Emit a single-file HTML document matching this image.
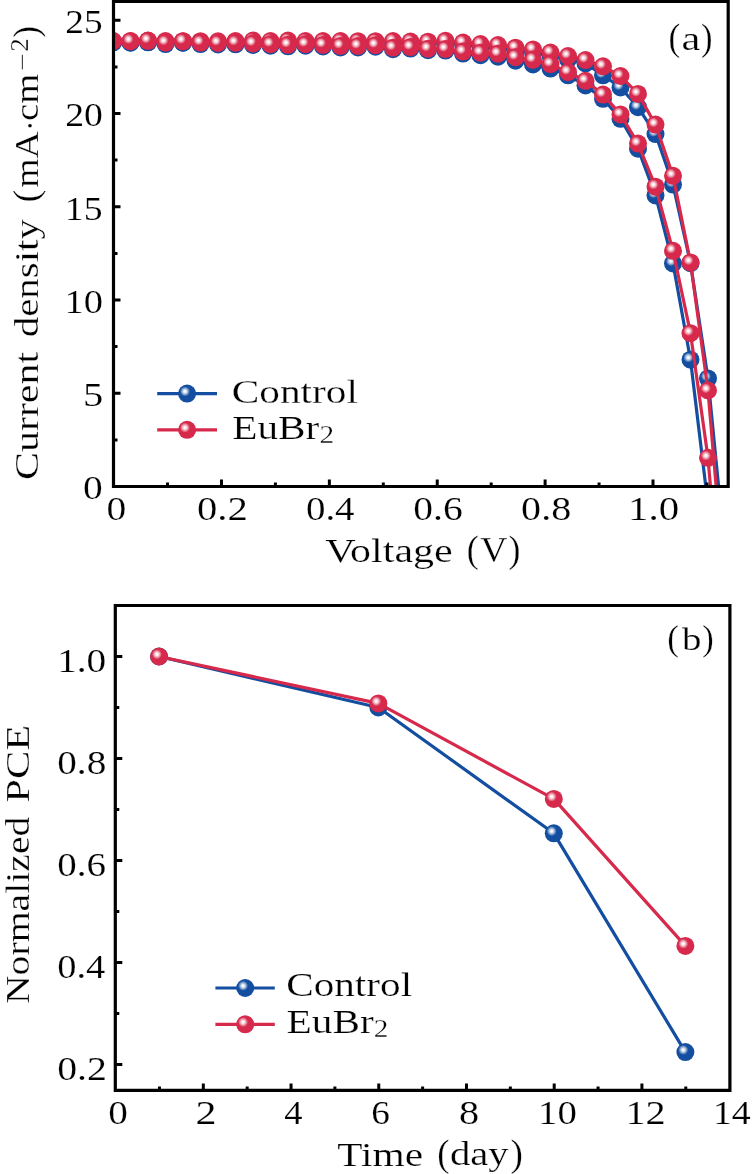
<!DOCTYPE html>
<html><head><meta charset="utf-8"><title>J-V curves and stability</title>
<style>html,body{margin:0;padding:0;background:#fff;width:752px;height:1174px;overflow:hidden}
svg{display:block;will-change:transform;font-family:"Liberation Serif",serif}</style></head>
<body><svg width="752" height="1174" viewBox="0 0 752 1174"><defs>
<radialGradient id="hl"><stop offset="0" stop-color="#fff" stop-opacity="1"/><stop offset="0.22" stop-color="#fff" stop-opacity="0.95"/><stop offset="0.55" stop-color="#fff" stop-opacity="0.6"/><stop offset="1" stop-color="#fff" stop-opacity="0"/></radialGradient>
<clipPath id="ca"><rect x="113.50" y="1.40" width="614.70" height="485.10"/></clipPath>
<clipPath id="cb"><rect x="115.30" y="605.50" width="614.60" height="484.90"/></clipPath>
</defs><g clip-path="url(#ca)"><path d="M113.00,42.50 L130.50,42.50 L148.00,42.30 L165.50,42.50 L183.00,42.70 L200.50,42.70 L218.00,42.80 L235.50,42.50 L253.00,42.00 L270.50,42.50 L288.00,42.00 L305.50,42.50 L323.00,42.50 L340.50,42.50 L358.00,42.70 L375.50,42.70 L393.00,42.50 L410.50,43.00 L428.00,43.20 L445.50,42.30 L463.00,44.50 L480.50,46.50 L498.00,47.90 L515.50,50.70 L533.00,52.40 L550.50,55.70 L568.00,59.30 L585.50,63.40 L603.00,75.30 L620.50,87.50 L638.00,107.20 L655.50,134.10 L673.00,184.60 L690.50,263.20 L708.00,378.40 L725.50,557.00" fill="none" stroke="#134ea0" stroke-width="3.2" stroke-linejoin="round"/><circle cx="113.00" cy="42.50" r="9.0" fill="#134ea0"/><circle cx="110.90" cy="40.30" r="5.0" fill="url(#hl)"/><circle cx="130.50" cy="42.50" r="9.0" fill="#134ea0"/><circle cx="128.40" cy="40.30" r="5.0" fill="url(#hl)"/><circle cx="148.00" cy="42.30" r="9.0" fill="#134ea0"/><circle cx="145.90" cy="40.10" r="5.0" fill="url(#hl)"/><circle cx="165.50" cy="42.50" r="9.0" fill="#134ea0"/><circle cx="163.40" cy="40.30" r="5.0" fill="url(#hl)"/><circle cx="183.00" cy="42.70" r="9.0" fill="#134ea0"/><circle cx="180.90" cy="40.50" r="5.0" fill="url(#hl)"/><circle cx="200.50" cy="42.70" r="9.0" fill="#134ea0"/><circle cx="198.40" cy="40.50" r="5.0" fill="url(#hl)"/><circle cx="218.00" cy="42.80" r="9.0" fill="#134ea0"/><circle cx="215.90" cy="40.60" r="5.0" fill="url(#hl)"/><circle cx="235.50" cy="42.50" r="9.0" fill="#134ea0"/><circle cx="233.40" cy="40.30" r="5.0" fill="url(#hl)"/><circle cx="253.00" cy="42.00" r="9.0" fill="#134ea0"/><circle cx="250.90" cy="39.80" r="5.0" fill="url(#hl)"/><circle cx="270.50" cy="42.50" r="9.0" fill="#134ea0"/><circle cx="268.40" cy="40.30" r="5.0" fill="url(#hl)"/><circle cx="288.00" cy="42.00" r="9.0" fill="#134ea0"/><circle cx="285.90" cy="39.80" r="5.0" fill="url(#hl)"/><circle cx="305.50" cy="42.50" r="9.0" fill="#134ea0"/><circle cx="303.40" cy="40.30" r="5.0" fill="url(#hl)"/><circle cx="323.00" cy="42.50" r="9.0" fill="#134ea0"/><circle cx="320.90" cy="40.30" r="5.0" fill="url(#hl)"/><circle cx="340.50" cy="42.50" r="9.0" fill="#134ea0"/><circle cx="338.40" cy="40.30" r="5.0" fill="url(#hl)"/><circle cx="358.00" cy="42.70" r="9.0" fill="#134ea0"/><circle cx="355.90" cy="40.50" r="5.0" fill="url(#hl)"/><circle cx="375.50" cy="42.70" r="9.0" fill="#134ea0"/><circle cx="373.40" cy="40.50" r="5.0" fill="url(#hl)"/><circle cx="393.00" cy="42.50" r="9.0" fill="#134ea0"/><circle cx="390.90" cy="40.30" r="5.0" fill="url(#hl)"/><circle cx="410.50" cy="43.00" r="9.0" fill="#134ea0"/><circle cx="408.40" cy="40.80" r="5.0" fill="url(#hl)"/><circle cx="428.00" cy="43.20" r="9.0" fill="#134ea0"/><circle cx="425.90" cy="41.00" r="5.0" fill="url(#hl)"/><circle cx="445.50" cy="42.30" r="9.0" fill="#134ea0"/><circle cx="443.40" cy="40.10" r="5.0" fill="url(#hl)"/><circle cx="463.00" cy="44.50" r="9.0" fill="#134ea0"/><circle cx="460.90" cy="42.30" r="5.0" fill="url(#hl)"/><circle cx="480.50" cy="46.50" r="9.0" fill="#134ea0"/><circle cx="478.40" cy="44.30" r="5.0" fill="url(#hl)"/><circle cx="498.00" cy="47.90" r="9.0" fill="#134ea0"/><circle cx="495.90" cy="45.70" r="5.0" fill="url(#hl)"/><circle cx="515.50" cy="50.70" r="9.0" fill="#134ea0"/><circle cx="513.40" cy="48.50" r="5.0" fill="url(#hl)"/><circle cx="533.00" cy="52.40" r="9.0" fill="#134ea0"/><circle cx="530.90" cy="50.20" r="5.0" fill="url(#hl)"/><circle cx="550.50" cy="55.70" r="9.0" fill="#134ea0"/><circle cx="548.40" cy="53.50" r="5.0" fill="url(#hl)"/><circle cx="568.00" cy="59.30" r="9.0" fill="#134ea0"/><circle cx="565.90" cy="57.10" r="5.0" fill="url(#hl)"/><circle cx="585.50" cy="63.40" r="9.0" fill="#134ea0"/><circle cx="583.40" cy="61.20" r="5.0" fill="url(#hl)"/><circle cx="603.00" cy="75.30" r="9.0" fill="#134ea0"/><circle cx="600.90" cy="73.10" r="5.0" fill="url(#hl)"/><circle cx="620.50" cy="87.50" r="9.0" fill="#134ea0"/><circle cx="618.40" cy="85.30" r="5.0" fill="url(#hl)"/><circle cx="638.00" cy="107.20" r="9.0" fill="#134ea0"/><circle cx="635.90" cy="105.00" r="5.0" fill="url(#hl)"/><circle cx="655.50" cy="134.10" r="9.0" fill="#134ea0"/><circle cx="653.40" cy="131.90" r="5.0" fill="url(#hl)"/><circle cx="673.00" cy="184.60" r="9.0" fill="#134ea0"/><circle cx="670.90" cy="182.40" r="5.0" fill="url(#hl)"/><circle cx="690.50" cy="263.20" r="9.0" fill="#134ea0"/><circle cx="688.40" cy="261.00" r="5.0" fill="url(#hl)"/><circle cx="708.00" cy="378.40" r="9.0" fill="#134ea0"/><circle cx="705.90" cy="376.20" r="5.0" fill="url(#hl)"/><circle cx="725.50" cy="557.00" r="9.0" fill="#134ea0"/><circle cx="723.40" cy="554.80" r="5.0" fill="url(#hl)"/></g><g clip-path="url(#ca)"><path d="M113.00,42.50 L130.50,42.70 L148.00,42.10 L165.50,44.10 L183.00,42.70 L200.50,44.10 L218.00,44.50 L235.50,44.30 L253.00,45.00 L270.50,45.70 L288.00,46.30 L305.50,45.70 L323.00,46.40 L340.50,47.40 L358.00,47.50 L375.50,46.70 L393.00,49.20 L410.50,48.60 L428.00,50.20 L445.50,50.60 L463.00,53.60 L480.50,55.20 L498.00,56.70 L515.50,60.70 L533.00,64.40 L550.50,68.60 L568.00,75.30 L585.50,85.40 L603.00,98.80 L620.50,118.80 L638.00,148.70 L655.50,195.40 L673.00,263.40 L690.50,359.70 L708.00,504.80 L725.50,721.00" fill="none" stroke="#134ea0" stroke-width="3.2" stroke-linejoin="round"/><circle cx="113.00" cy="42.50" r="9.0" fill="#134ea0"/><circle cx="110.90" cy="40.30" r="5.0" fill="url(#hl)"/><circle cx="130.50" cy="42.70" r="9.0" fill="#134ea0"/><circle cx="128.40" cy="40.50" r="5.0" fill="url(#hl)"/><circle cx="148.00" cy="42.10" r="9.0" fill="#134ea0"/><circle cx="145.90" cy="39.90" r="5.0" fill="url(#hl)"/><circle cx="165.50" cy="44.10" r="9.0" fill="#134ea0"/><circle cx="163.40" cy="41.90" r="5.0" fill="url(#hl)"/><circle cx="183.00" cy="42.70" r="9.0" fill="#134ea0"/><circle cx="180.90" cy="40.50" r="5.0" fill="url(#hl)"/><circle cx="200.50" cy="44.10" r="9.0" fill="#134ea0"/><circle cx="198.40" cy="41.90" r="5.0" fill="url(#hl)"/><circle cx="218.00" cy="44.50" r="9.0" fill="#134ea0"/><circle cx="215.90" cy="42.30" r="5.0" fill="url(#hl)"/><circle cx="235.50" cy="44.30" r="9.0" fill="#134ea0"/><circle cx="233.40" cy="42.10" r="5.0" fill="url(#hl)"/><circle cx="253.00" cy="45.00" r="9.0" fill="#134ea0"/><circle cx="250.90" cy="42.80" r="5.0" fill="url(#hl)"/><circle cx="270.50" cy="45.70" r="9.0" fill="#134ea0"/><circle cx="268.40" cy="43.50" r="5.0" fill="url(#hl)"/><circle cx="288.00" cy="46.30" r="9.0" fill="#134ea0"/><circle cx="285.90" cy="44.10" r="5.0" fill="url(#hl)"/><circle cx="305.50" cy="45.70" r="9.0" fill="#134ea0"/><circle cx="303.40" cy="43.50" r="5.0" fill="url(#hl)"/><circle cx="323.00" cy="46.40" r="9.0" fill="#134ea0"/><circle cx="320.90" cy="44.20" r="5.0" fill="url(#hl)"/><circle cx="340.50" cy="47.40" r="9.0" fill="#134ea0"/><circle cx="338.40" cy="45.20" r="5.0" fill="url(#hl)"/><circle cx="358.00" cy="47.50" r="9.0" fill="#134ea0"/><circle cx="355.90" cy="45.30" r="5.0" fill="url(#hl)"/><circle cx="375.50" cy="46.70" r="9.0" fill="#134ea0"/><circle cx="373.40" cy="44.50" r="5.0" fill="url(#hl)"/><circle cx="393.00" cy="49.20" r="9.0" fill="#134ea0"/><circle cx="390.90" cy="47.00" r="5.0" fill="url(#hl)"/><circle cx="410.50" cy="48.60" r="9.0" fill="#134ea0"/><circle cx="408.40" cy="46.40" r="5.0" fill="url(#hl)"/><circle cx="428.00" cy="50.20" r="9.0" fill="#134ea0"/><circle cx="425.90" cy="48.00" r="5.0" fill="url(#hl)"/><circle cx="445.50" cy="50.60" r="9.0" fill="#134ea0"/><circle cx="443.40" cy="48.40" r="5.0" fill="url(#hl)"/><circle cx="463.00" cy="53.60" r="9.0" fill="#134ea0"/><circle cx="460.90" cy="51.40" r="5.0" fill="url(#hl)"/><circle cx="480.50" cy="55.20" r="9.0" fill="#134ea0"/><circle cx="478.40" cy="53.00" r="5.0" fill="url(#hl)"/><circle cx="498.00" cy="56.70" r="9.0" fill="#134ea0"/><circle cx="495.90" cy="54.50" r="5.0" fill="url(#hl)"/><circle cx="515.50" cy="60.70" r="9.0" fill="#134ea0"/><circle cx="513.40" cy="58.50" r="5.0" fill="url(#hl)"/><circle cx="533.00" cy="64.40" r="9.0" fill="#134ea0"/><circle cx="530.90" cy="62.20" r="5.0" fill="url(#hl)"/><circle cx="550.50" cy="68.60" r="9.0" fill="#134ea0"/><circle cx="548.40" cy="66.40" r="5.0" fill="url(#hl)"/><circle cx="568.00" cy="75.30" r="9.0" fill="#134ea0"/><circle cx="565.90" cy="73.10" r="5.0" fill="url(#hl)"/><circle cx="585.50" cy="85.40" r="9.0" fill="#134ea0"/><circle cx="583.40" cy="83.20" r="5.0" fill="url(#hl)"/><circle cx="603.00" cy="98.80" r="9.0" fill="#134ea0"/><circle cx="600.90" cy="96.60" r="5.0" fill="url(#hl)"/><circle cx="620.50" cy="118.80" r="9.0" fill="#134ea0"/><circle cx="618.40" cy="116.60" r="5.0" fill="url(#hl)"/><circle cx="638.00" cy="148.70" r="9.0" fill="#134ea0"/><circle cx="635.90" cy="146.50" r="5.0" fill="url(#hl)"/><circle cx="655.50" cy="195.40" r="9.0" fill="#134ea0"/><circle cx="653.40" cy="193.20" r="5.0" fill="url(#hl)"/><circle cx="673.00" cy="263.40" r="9.0" fill="#134ea0"/><circle cx="670.90" cy="261.20" r="5.0" fill="url(#hl)"/><circle cx="690.50" cy="359.70" r="9.0" fill="#134ea0"/><circle cx="688.40" cy="357.50" r="5.0" fill="url(#hl)"/><circle cx="708.00" cy="504.80" r="9.0" fill="#134ea0"/><circle cx="705.90" cy="502.60" r="5.0" fill="url(#hl)"/><circle cx="725.50" cy="721.00" r="9.0" fill="#134ea0"/><circle cx="723.40" cy="718.80" r="5.0" fill="url(#hl)"/></g><g clip-path="url(#ca)"><path d="M113.00,41.00 L130.50,41.00 L148.00,40.80 L165.50,41.00 L183.00,41.20 L200.50,41.20 L218.00,41.30 L235.50,41.00 L253.00,40.50 L270.50,41.00 L288.00,40.50 L305.50,41.00 L323.00,41.00 L340.50,41.00 L358.00,41.20 L375.50,41.20 L393.00,41.00 L410.50,41.50 L428.00,41.70 L445.50,40.80 L463.00,42.50 L480.50,44.00 L498.00,45.10 L515.50,47.70 L533.00,49.40 L550.50,52.50 L568.00,56.00 L585.50,60.10 L603.00,66.30 L620.50,76.00 L638.00,93.90 L655.50,124.60 L673.00,175.80 L690.50,262.40 L708.00,390.50 L725.50,597.00" fill="none" stroke="#d6294b" stroke-width="3.2" stroke-linejoin="round"/><circle cx="113.00" cy="41.00" r="9.0" fill="#d6294b"/><circle cx="110.90" cy="38.80" r="5.0" fill="url(#hl)"/><circle cx="130.50" cy="41.00" r="9.0" fill="#d6294b"/><circle cx="128.40" cy="38.80" r="5.0" fill="url(#hl)"/><circle cx="148.00" cy="40.80" r="9.0" fill="#d6294b"/><circle cx="145.90" cy="38.60" r="5.0" fill="url(#hl)"/><circle cx="165.50" cy="41.00" r="9.0" fill="#d6294b"/><circle cx="163.40" cy="38.80" r="5.0" fill="url(#hl)"/><circle cx="183.00" cy="41.20" r="9.0" fill="#d6294b"/><circle cx="180.90" cy="39.00" r="5.0" fill="url(#hl)"/><circle cx="200.50" cy="41.20" r="9.0" fill="#d6294b"/><circle cx="198.40" cy="39.00" r="5.0" fill="url(#hl)"/><circle cx="218.00" cy="41.30" r="9.0" fill="#d6294b"/><circle cx="215.90" cy="39.10" r="5.0" fill="url(#hl)"/><circle cx="235.50" cy="41.00" r="9.0" fill="#d6294b"/><circle cx="233.40" cy="38.80" r="5.0" fill="url(#hl)"/><circle cx="253.00" cy="40.50" r="9.0" fill="#d6294b"/><circle cx="250.90" cy="38.30" r="5.0" fill="url(#hl)"/><circle cx="270.50" cy="41.00" r="9.0" fill="#d6294b"/><circle cx="268.40" cy="38.80" r="5.0" fill="url(#hl)"/><circle cx="288.00" cy="40.50" r="9.0" fill="#d6294b"/><circle cx="285.90" cy="38.30" r="5.0" fill="url(#hl)"/><circle cx="305.50" cy="41.00" r="9.0" fill="#d6294b"/><circle cx="303.40" cy="38.80" r="5.0" fill="url(#hl)"/><circle cx="323.00" cy="41.00" r="9.0" fill="#d6294b"/><circle cx="320.90" cy="38.80" r="5.0" fill="url(#hl)"/><circle cx="340.50" cy="41.00" r="9.0" fill="#d6294b"/><circle cx="338.40" cy="38.80" r="5.0" fill="url(#hl)"/><circle cx="358.00" cy="41.20" r="9.0" fill="#d6294b"/><circle cx="355.90" cy="39.00" r="5.0" fill="url(#hl)"/><circle cx="375.50" cy="41.20" r="9.0" fill="#d6294b"/><circle cx="373.40" cy="39.00" r="5.0" fill="url(#hl)"/><circle cx="393.00" cy="41.00" r="9.0" fill="#d6294b"/><circle cx="390.90" cy="38.80" r="5.0" fill="url(#hl)"/><circle cx="410.50" cy="41.50" r="9.0" fill="#d6294b"/><circle cx="408.40" cy="39.30" r="5.0" fill="url(#hl)"/><circle cx="428.00" cy="41.70" r="9.0" fill="#d6294b"/><circle cx="425.90" cy="39.50" r="5.0" fill="url(#hl)"/><circle cx="445.50" cy="40.80" r="9.0" fill="#d6294b"/><circle cx="443.40" cy="38.60" r="5.0" fill="url(#hl)"/><circle cx="463.00" cy="42.50" r="9.0" fill="#d6294b"/><circle cx="460.90" cy="40.30" r="5.0" fill="url(#hl)"/><circle cx="480.50" cy="44.00" r="9.0" fill="#d6294b"/><circle cx="478.40" cy="41.80" r="5.0" fill="url(#hl)"/><circle cx="498.00" cy="45.10" r="9.0" fill="#d6294b"/><circle cx="495.90" cy="42.90" r="5.0" fill="url(#hl)"/><circle cx="515.50" cy="47.70" r="9.0" fill="#d6294b"/><circle cx="513.40" cy="45.50" r="5.0" fill="url(#hl)"/><circle cx="533.00" cy="49.40" r="9.0" fill="#d6294b"/><circle cx="530.90" cy="47.20" r="5.0" fill="url(#hl)"/><circle cx="550.50" cy="52.50" r="9.0" fill="#d6294b"/><circle cx="548.40" cy="50.30" r="5.0" fill="url(#hl)"/><circle cx="568.00" cy="56.00" r="9.0" fill="#d6294b"/><circle cx="565.90" cy="53.80" r="5.0" fill="url(#hl)"/><circle cx="585.50" cy="60.10" r="9.0" fill="#d6294b"/><circle cx="583.40" cy="57.90" r="5.0" fill="url(#hl)"/><circle cx="603.00" cy="66.30" r="9.0" fill="#d6294b"/><circle cx="600.90" cy="64.10" r="5.0" fill="url(#hl)"/><circle cx="620.50" cy="76.00" r="9.0" fill="#d6294b"/><circle cx="618.40" cy="73.80" r="5.0" fill="url(#hl)"/><circle cx="638.00" cy="93.90" r="9.0" fill="#d6294b"/><circle cx="635.90" cy="91.70" r="5.0" fill="url(#hl)"/><circle cx="655.50" cy="124.60" r="9.0" fill="#d6294b"/><circle cx="653.40" cy="122.40" r="5.0" fill="url(#hl)"/><circle cx="673.00" cy="175.80" r="9.0" fill="#d6294b"/><circle cx="670.90" cy="173.60" r="5.0" fill="url(#hl)"/><circle cx="690.50" cy="262.40" r="9.0" fill="#d6294b"/><circle cx="688.40" cy="260.20" r="5.0" fill="url(#hl)"/><circle cx="708.00" cy="390.50" r="9.0" fill="#d6294b"/><circle cx="705.90" cy="388.30" r="5.0" fill="url(#hl)"/><circle cx="725.50" cy="597.00" r="9.0" fill="#d6294b"/><circle cx="723.40" cy="594.80" r="5.0" fill="url(#hl)"/></g><g clip-path="url(#ca)"><path d="M113.00,41.00 L130.50,41.20 L148.00,40.60 L165.50,42.60 L183.00,41.20 L200.50,42.60 L218.00,43.00 L235.50,42.80 L253.00,43.50 L270.50,44.20 L288.00,44.80 L305.50,44.20 L323.00,44.90 L340.50,45.90 L358.00,46.00 L375.50,45.20 L393.00,47.70 L410.50,47.10 L428.00,48.70 L445.50,49.10 L463.00,51.60 L480.50,52.70 L498.00,53.70 L515.50,57.20 L533.00,59.80 L550.50,64.10 L568.00,72.10 L585.50,80.80 L603.00,94.60 L620.50,114.40 L638.00,143.60 L655.50,186.70 L673.00,250.80 L690.50,333.20 L708.00,457.80 L725.50,661.00" fill="none" stroke="#d6294b" stroke-width="3.2" stroke-linejoin="round"/><circle cx="113.00" cy="41.00" r="9.0" fill="#d6294b"/><circle cx="110.90" cy="38.80" r="5.0" fill="url(#hl)"/><circle cx="130.50" cy="41.20" r="9.0" fill="#d6294b"/><circle cx="128.40" cy="39.00" r="5.0" fill="url(#hl)"/><circle cx="148.00" cy="40.60" r="9.0" fill="#d6294b"/><circle cx="145.90" cy="38.40" r="5.0" fill="url(#hl)"/><circle cx="165.50" cy="42.60" r="9.0" fill="#d6294b"/><circle cx="163.40" cy="40.40" r="5.0" fill="url(#hl)"/><circle cx="183.00" cy="41.20" r="9.0" fill="#d6294b"/><circle cx="180.90" cy="39.00" r="5.0" fill="url(#hl)"/><circle cx="200.50" cy="42.60" r="9.0" fill="#d6294b"/><circle cx="198.40" cy="40.40" r="5.0" fill="url(#hl)"/><circle cx="218.00" cy="43.00" r="9.0" fill="#d6294b"/><circle cx="215.90" cy="40.80" r="5.0" fill="url(#hl)"/><circle cx="235.50" cy="42.80" r="9.0" fill="#d6294b"/><circle cx="233.40" cy="40.60" r="5.0" fill="url(#hl)"/><circle cx="253.00" cy="43.50" r="9.0" fill="#d6294b"/><circle cx="250.90" cy="41.30" r="5.0" fill="url(#hl)"/><circle cx="270.50" cy="44.20" r="9.0" fill="#d6294b"/><circle cx="268.40" cy="42.00" r="5.0" fill="url(#hl)"/><circle cx="288.00" cy="44.80" r="9.0" fill="#d6294b"/><circle cx="285.90" cy="42.60" r="5.0" fill="url(#hl)"/><circle cx="305.50" cy="44.20" r="9.0" fill="#d6294b"/><circle cx="303.40" cy="42.00" r="5.0" fill="url(#hl)"/><circle cx="323.00" cy="44.90" r="9.0" fill="#d6294b"/><circle cx="320.90" cy="42.70" r="5.0" fill="url(#hl)"/><circle cx="340.50" cy="45.90" r="9.0" fill="#d6294b"/><circle cx="338.40" cy="43.70" r="5.0" fill="url(#hl)"/><circle cx="358.00" cy="46.00" r="9.0" fill="#d6294b"/><circle cx="355.90" cy="43.80" r="5.0" fill="url(#hl)"/><circle cx="375.50" cy="45.20" r="9.0" fill="#d6294b"/><circle cx="373.40" cy="43.00" r="5.0" fill="url(#hl)"/><circle cx="393.00" cy="47.70" r="9.0" fill="#d6294b"/><circle cx="390.90" cy="45.50" r="5.0" fill="url(#hl)"/><circle cx="410.50" cy="47.10" r="9.0" fill="#d6294b"/><circle cx="408.40" cy="44.90" r="5.0" fill="url(#hl)"/><circle cx="428.00" cy="48.70" r="9.0" fill="#d6294b"/><circle cx="425.90" cy="46.50" r="5.0" fill="url(#hl)"/><circle cx="445.50" cy="49.10" r="9.0" fill="#d6294b"/><circle cx="443.40" cy="46.90" r="5.0" fill="url(#hl)"/><circle cx="463.00" cy="51.60" r="9.0" fill="#d6294b"/><circle cx="460.90" cy="49.40" r="5.0" fill="url(#hl)"/><circle cx="480.50" cy="52.70" r="9.0" fill="#d6294b"/><circle cx="478.40" cy="50.50" r="5.0" fill="url(#hl)"/><circle cx="498.00" cy="53.70" r="9.0" fill="#d6294b"/><circle cx="495.90" cy="51.50" r="5.0" fill="url(#hl)"/><circle cx="515.50" cy="57.20" r="9.0" fill="#d6294b"/><circle cx="513.40" cy="55.00" r="5.0" fill="url(#hl)"/><circle cx="533.00" cy="59.80" r="9.0" fill="#d6294b"/><circle cx="530.90" cy="57.60" r="5.0" fill="url(#hl)"/><circle cx="550.50" cy="64.10" r="9.0" fill="#d6294b"/><circle cx="548.40" cy="61.90" r="5.0" fill="url(#hl)"/><circle cx="568.00" cy="72.10" r="9.0" fill="#d6294b"/><circle cx="565.90" cy="69.90" r="5.0" fill="url(#hl)"/><circle cx="585.50" cy="80.80" r="9.0" fill="#d6294b"/><circle cx="583.40" cy="78.60" r="5.0" fill="url(#hl)"/><circle cx="603.00" cy="94.60" r="9.0" fill="#d6294b"/><circle cx="600.90" cy="92.40" r="5.0" fill="url(#hl)"/><circle cx="620.50" cy="114.40" r="9.0" fill="#d6294b"/><circle cx="618.40" cy="112.20" r="5.0" fill="url(#hl)"/><circle cx="638.00" cy="143.60" r="9.0" fill="#d6294b"/><circle cx="635.90" cy="141.40" r="5.0" fill="url(#hl)"/><circle cx="655.50" cy="186.70" r="9.0" fill="#d6294b"/><circle cx="653.40" cy="184.50" r="5.0" fill="url(#hl)"/><circle cx="673.00" cy="250.80" r="9.0" fill="#d6294b"/><circle cx="670.90" cy="248.60" r="5.0" fill="url(#hl)"/><circle cx="690.50" cy="333.20" r="9.0" fill="#d6294b"/><circle cx="688.40" cy="331.00" r="5.0" fill="url(#hl)"/><circle cx="708.00" cy="457.80" r="9.0" fill="#d6294b"/><circle cx="705.90" cy="455.60" r="5.0" fill="url(#hl)"/><circle cx="725.50" cy="661.00" r="9.0" fill="#d6294b"/><circle cx="723.40" cy="658.80" r="5.0" fill="url(#hl)"/></g><g clip-path="url(#cb)"><path d="M159.06,656.50 L378.36,707.50 L553.80,833.32 L685.38,1052.11" fill="none" stroke="#134ea0" stroke-width="3.2" stroke-linejoin="round"/><circle cx="159.06" cy="656.50" r="9.0" fill="#134ea0"/><circle cx="156.96" cy="654.30" r="5.0" fill="url(#hl)"/><circle cx="378.36" cy="707.50" r="9.0" fill="#134ea0"/><circle cx="376.26" cy="705.30" r="5.0" fill="url(#hl)"/><circle cx="553.80" cy="833.32" r="9.0" fill="#134ea0"/><circle cx="551.70" cy="831.12" r="5.0" fill="url(#hl)"/><circle cx="685.38" cy="1052.11" r="9.0" fill="#134ea0"/><circle cx="683.28" cy="1049.91" r="5.0" fill="url(#hl)"/></g><g clip-path="url(#cb)"><path d="M159.06,656.50 L378.36,703.42 L553.80,798.89 L685.38,945.92" fill="none" stroke="#d6294b" stroke-width="3.2" stroke-linejoin="round"/><circle cx="159.06" cy="656.50" r="9.0" fill="#d6294b"/><circle cx="156.96" cy="654.30" r="5.0" fill="url(#hl)"/><circle cx="378.36" cy="703.42" r="9.0" fill="#d6294b"/><circle cx="376.26" cy="701.22" r="5.0" fill="url(#hl)"/><circle cx="553.80" cy="798.89" r="9.0" fill="#d6294b"/><circle cx="551.70" cy="796.69" r="5.0" fill="url(#hl)"/><circle cx="685.38" cy="945.92" r="9.0" fill="#d6294b"/><circle cx="683.28" cy="943.72" r="5.0" fill="url(#hl)"/></g><path d="M113.5,1.4H728.2V486.5H113.5Z M115.3,605.5H729.9V1090.4H115.3Z" fill="none" stroke="#000" stroke-width="3.2" stroke-linejoin="miter"/><path d="M167.54,486.50V482.50M221.48,486.50V479.50M275.42,486.50V482.50M329.36,486.50V479.50M383.30,486.50V482.50M437.24,486.50V479.50M491.18,486.50V482.50M545.12,486.50V479.50M599.06,486.50V482.50M653.00,486.50V479.50M706.94,486.50V482.50M113.50,439.88H117.50M113.50,393.25H120.50M113.50,346.62H117.50M113.50,300.00H120.50M113.50,253.38H117.50M113.50,206.75H120.50M113.50,160.12H117.50M113.50,113.50H120.50M113.50,66.88H117.50M113.50,20.25H120.50M159.46,1090.40V1086.40M203.32,1090.40V1083.40M247.18,1090.40V1086.40M291.04,1090.40V1083.40M334.90,1090.40V1086.40M378.76,1090.40V1083.40M422.62,1090.40V1086.40M466.48,1090.40V1083.40M510.34,1090.40V1086.40M554.20,1090.40V1083.40M598.06,1090.40V1086.40M641.92,1090.40V1083.40M685.78,1090.40V1086.40M115.30,1064.50H122.30M115.30,1013.50H119.30M115.30,962.50H122.30M115.30,911.50H119.30M115.30,860.50H122.30M115.30,809.50H119.30M115.30,758.50H122.30M115.30,707.50H119.30M115.30,656.50H122.30" stroke="#000" stroke-width="3.0"/><path d="M157.2,393.6H217" stroke="#134ea0" stroke-width="3.2"/><circle cx="187.1" cy="393.6" r="9.0" fill="#134ea0"/><circle cx="185.00" cy="391.40" r="5.0" fill="url(#hl)"/><path d="M157.2,429.8H217" stroke="#d6294b" stroke-width="3.2"/><circle cx="187.1" cy="429.8" r="9.0" fill="#d6294b"/><circle cx="185.00" cy="427.60" r="5.0" fill="url(#hl)"/><path d="M215.4,988.0H274.8" stroke="#134ea0" stroke-width="3.2"/><circle cx="245.2" cy="988.0" r="9.0" fill="#134ea0"/><circle cx="243.10" cy="985.80" r="5.0" fill="url(#hl)"/><path d="M215.4,1024.3H274.8" stroke="#d6294b" stroke-width="3.2"/><circle cx="245.2" cy="1024.3" r="9.0" fill="#d6294b"/><circle cx="243.10" cy="1022.10" r="5.0" fill="url(#hl)"/><g fill="#000" stroke="#fff"><text transform="translate(65.22,33.05) scale(1.0993,1.0000)" font-size="34" stroke-width="0.15">25</text><text transform="translate(65.20,126.30) scale(1.1092,1.0000)" font-size="34" stroke-width="0.15">20</text><text transform="translate(64.80,219.55) scale(1.1091,1.0000)" font-size="34" stroke-width="0.15">15</text><text transform="translate(64.43,312.80) scale(1.1328,1.0000)" font-size="34" stroke-width="0.15">10</text><text transform="translate(82.97,406.05) scale(1.1911,1.0000)" font-size="34" stroke-width="0.15">5</text><text transform="translate(83.12,499.30) scale(1.1626,1.0000)" font-size="34" stroke-width="0.15">0</text><text transform="translate(106.52,520.00) scale(1.1626,1.0000)" font-size="34" stroke-width="0.15">0</text><text transform="translate(196.97,520.00) scale(1.1968,1.0000)" font-size="34" stroke-width="0.15">0.2</text><text transform="translate(305.94,520.00) scale(1.1445,1.0000)" font-size="34" stroke-width="0.15">0.4</text><text transform="translate(413.22,520.00) scale(1.1640,1.0000)" font-size="34" stroke-width="0.15">0.6</text><text transform="translate(521.10,520.00) scale(1.1790,1.0000)" font-size="34" stroke-width="0.15">0.8</text><text transform="translate(628.01,520.00) scale(1.2052,1.0000)" font-size="34" stroke-width="0.15">1.0</text><text transform="translate(57.16,671.50) scale(1.1556,1.0000)" font-size="34" stroke-width="0.15">1.0</text><text transform="translate(57.23,773.50) scale(1.1539,1.0000)" font-size="34" stroke-width="0.15">0.8</text><text transform="translate(57.24,875.50) scale(1.1466,1.0000)" font-size="34" stroke-width="0.15">0.6</text><text transform="translate(57.26,977.50) scale(1.1323,1.0000)" font-size="34" stroke-width="0.15">0.4</text><text transform="translate(57.21,1079.50) scale(1.1714,1.0000)" font-size="34" stroke-width="0.15">0.2</text><text transform="translate(108.23,1123.70) scale(1.1557,1.0000)" font-size="34" stroke-width="0.15">0</text><text transform="translate(195.51,1123.70) scale(1.2353,1.0000)" font-size="34" stroke-width="0.15">2</text><text transform="translate(284.17,1123.70) scale(1.0753,1.0000)" font-size="34" stroke-width="0.15">4</text><text transform="translate(371.32,1123.70) scale(1.0939,1.0000)" font-size="34" stroke-width="0.15">6</text><text transform="translate(459.09,1123.70) scale(1.1834,1.0000)" font-size="34" stroke-width="0.15">8</text><text transform="translate(538.10,1123.70) scale(1.1429,1.0000)" font-size="34" stroke-width="0.15">10</text><text transform="translate(625.38,1123.70) scale(1.1833,1.0000)" font-size="34" stroke-width="0.15">12</text><text transform="translate(712.89,1123.70) scale(1.1142,1.0000)" font-size="34" stroke-width="0.15">14</text><text transform="translate(325.18,561.70) scale(1.2354,1.0000)" font-size="34" stroke-width="0.25">Voltage</text><text transform="translate(466.78,561.76) scale(1.0611,1.0857)" font-size="34" stroke-width="0.25">(</text><text transform="translate(480.32,561.58) scale(1.1050,1.0228)" font-size="34" stroke-width="0.25">V</text><text transform="translate(508.44,561.76) scale(1.0508,1.0857)" font-size="34" stroke-width="0.25">)</text><text transform="translate(337.28,1166.00) scale(1.2171,1.0000)" font-size="34" stroke-width="0.25">Time</text><text transform="translate(437.34,1166.26) scale(1.0842,1.0857)" font-size="34" stroke-width="0.25">(</text><text transform="translate(449.88,1165.40) scale(1.1974,1.0000)" font-size="34" stroke-width="0.25">day</text><text transform="translate(510.39,1166.26) scale(1.0965,1.0857)" font-size="34" stroke-width="0.25">)</text><text transform="translate(28.60,1004.09) rotate(-90) scale(1.1689,1)" font-size="34" stroke-width="0.25">Normalized</text><text transform="translate(28.60,802.78) rotate(-90) scale(1.2520,1)" font-size="34" stroke-width="0.25">PCE</text><text transform="translate(38.00,480.08) rotate(-90) scale(1.2351,1)" font-size="34" stroke-width="0.25">Current</text><text transform="translate(38.00,337.33) rotate(-90) scale(1.2043,1)" font-size="34" stroke-width="0.25">density</text><text transform="translate(38.22,202.53) rotate(-90) scale(1.1303,1.0630)" font-size="34" stroke-width="0.25">(</text><text transform="translate(38.00,187.75) rotate(-90) scale(1.1086,1)" font-size="34" stroke-width="0.25">mA</text><text transform="translate(40.80,130.69) rotate(-90) scale(0.9011,1)" font-size="34" stroke-width="0.25">·</text><text transform="translate(38.00,121.05) rotate(-90) scale(1.1388,1)" font-size="34" stroke-width="0.25">cm</text><text transform="translate(30.00,71.31) rotate(-90) scale(1.4025,1)" font-size="23" stroke-width="0.25">−</text><text transform="translate(28.10,51.71) rotate(-90) scale(1.1739,1.0763)" font-size="23" stroke-width="0.25">2</text><text transform="translate(38.22,37.75) rotate(-90) scale(1.0394,1.0630)" font-size="34" stroke-width="0.25">)</text><text transform="translate(231.75,402.60) scale(1.2158,1.0000)" font-size="34" stroke-width="0.25">Control</text><text transform="translate(232.16,438.50) scale(1.2148,1.0000)" font-size="34" stroke-width="0.25">EuBr</text><text transform="translate(319.58,442.60) scale(1.2717,1.0960)" font-size="23" stroke-width="0.25">2</text><text transform="translate(286.15,996.30) scale(1.2128,1.0000)" font-size="34" stroke-width="0.25">Control</text><text transform="translate(286.56,1032.50) scale(1.2148,1.0000)" font-size="34" stroke-width="0.25">EuBr</text><text transform="translate(373.78,1036.60) scale(1.2717,1.0960)" font-size="23" stroke-width="0.25">2</text><text transform="translate(668.41,49.76) scale(1.0381,1.0987)" font-size="34" stroke-width="0.25">(</text><text transform="translate(681.61,49.66) scale(1.2509,0.9926)" font-size="34" stroke-width="0.25">a</text><text transform="translate(701.08,49.76) scale(1.0166,1.0987)" font-size="34" stroke-width="0.25">)</text><text transform="translate(667.21,650.35) scale(1.0381,1.0728)" font-size="34" stroke-width="0.25">(</text><text transform="translate(681.90,649.67) scale(1.1447,0.9595)" font-size="34" stroke-width="0.25">b</text><text transform="translate(702.28,650.35) scale(1.0166,1.0728)" font-size="34" stroke-width="0.25">)</text></g></svg></body></html>
